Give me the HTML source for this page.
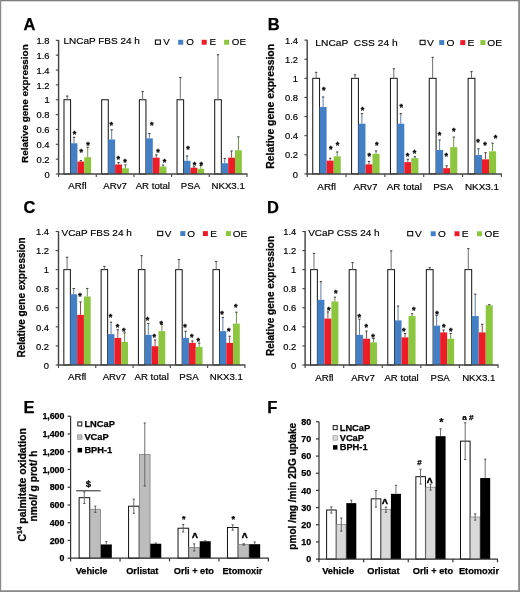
<!DOCTYPE html>
<html><head><meta charset="utf-8"><title>Figure</title>
<style>html,body{margin:0;padding:0;background:#fff}svg{display:block;filter:blur(0.35px)}text{font-family:'Liberation Sans', sans-serif}</style>
</head><body>
<svg width="520" height="592" viewBox="0 0 520 592">
<rect x="0" y="0" width="520" height="592" fill="#fff"/>
<rect x="63.99" y="99.75" width="6.6" height="74.25" fill="#fff" stroke="#111" stroke-width="1"/>
<line x1="67.26" y1="99.75" x2="67.26" y2="96.04" stroke="#6e6e6e" stroke-width="1"/>
<line x1="66.11" y1="96.04" x2="68.41" y2="96.04" stroke="#3a3a3a" stroke-width="1"/>
<rect x="70.59" y="143.26" width="6.85" height="30.74" fill="#437fc5"/>
<line x1="74.01" y1="143.26" x2="74.01" y2="137.32" stroke="#5f7da6" stroke-width="1"/>
<line x1="72.86" y1="137.32" x2="75.16" y2="137.32" stroke="#3a3a3a" stroke-width="1"/>
<rect x="77.44" y="161.53" width="6.85" height="12.47" fill="#ee1c27"/>
<line x1="80.87" y1="161.53" x2="80.87" y2="160.64" stroke="#a0484a" stroke-width="1"/>
<line x1="79.72" y1="160.64" x2="82.02" y2="160.64" stroke="#3a3a3a" stroke-width="1"/>
<rect x="84.29" y="157.22" width="6.85" height="16.78" fill="#8cc63f"/>
<line x1="87.72" y1="157.22" x2="87.72" y2="147.2" stroke="#6f8f4a" stroke-width="1"/>
<line x1="86.57" y1="147.2" x2="88.87" y2="147.2" stroke="#3a3a3a" stroke-width="1"/>
<rect x="101.67" y="99.75" width="6.6" height="74.25" fill="#fff" stroke="#111" stroke-width="1"/>
<rect x="108.27" y="139.47" width="6.85" height="34.53" fill="#437fc5"/>
<line x1="111.69" y1="139.47" x2="111.69" y2="129.82" stroke="#5f7da6" stroke-width="1"/>
<line x1="110.54" y1="129.82" x2="112.84" y2="129.82" stroke="#3a3a3a" stroke-width="1"/>
<rect x="115.12" y="164.5" width="6.85" height="9.5" fill="#ee1c27"/>
<line x1="118.55" y1="164.5" x2="118.55" y2="162.64" stroke="#a0484a" stroke-width="1"/>
<line x1="117.4" y1="162.64" x2="119.7" y2="162.64" stroke="#3a3a3a" stroke-width="1"/>
<rect x="121.97" y="168.28" width="6.85" height="5.72" fill="#8cc63f"/>
<line x1="125.4" y1="168.28" x2="125.4" y2="164.94" stroke="#6f8f4a" stroke-width="1"/>
<line x1="124.25" y1="164.94" x2="126.55" y2="164.94" stroke="#3a3a3a" stroke-width="1"/>
<rect x="139.35" y="99.75" width="6.6" height="74.25" fill="#fff" stroke="#111" stroke-width="1"/>
<line x1="142.62" y1="99.75" x2="142.62" y2="91.58" stroke="#6e6e6e" stroke-width="1"/>
<line x1="141.47" y1="91.58" x2="143.77" y2="91.58" stroke="#3a3a3a" stroke-width="1"/>
<rect x="145.95" y="138.36" width="6.85" height="35.64" fill="#437fc5"/>
<line x1="149.37" y1="138.36" x2="149.37" y2="133.53" stroke="#5f7da6" stroke-width="1"/>
<line x1="148.22" y1="133.53" x2="150.52" y2="133.53" stroke="#3a3a3a" stroke-width="1"/>
<rect x="152.8" y="157.66" width="6.85" height="16.34" fill="#ee1c27"/>
<line x1="156.23" y1="157.66" x2="156.23" y2="154.92" stroke="#a0484a" stroke-width="1"/>
<line x1="155.08" y1="154.92" x2="157.38" y2="154.92" stroke="#3a3a3a" stroke-width="1"/>
<rect x="159.65" y="166.57" width="6.85" height="7.43" fill="#8cc63f"/>
<line x1="163.08" y1="166.57" x2="163.08" y2="165.09" stroke="#6f8f4a" stroke-width="1"/>
<line x1="161.93" y1="165.09" x2="164.23" y2="165.09" stroke="#3a3a3a" stroke-width="1"/>
<rect x="177.03" y="99.75" width="6.6" height="74.25" fill="#fff" stroke="#111" stroke-width="1"/>
<line x1="180.3" y1="99.75" x2="180.3" y2="77.47" stroke="#6e6e6e" stroke-width="1"/>
<line x1="179.15" y1="77.47" x2="181.45" y2="77.47" stroke="#3a3a3a" stroke-width="1"/>
<rect x="183.63" y="160.78" width="6.85" height="13.22" fill="#437fc5"/>
<line x1="187.05" y1="160.78" x2="187.05" y2="155.96" stroke="#5f7da6" stroke-width="1"/>
<line x1="185.9" y1="155.96" x2="188.2" y2="155.96" stroke="#3a3a3a" stroke-width="1"/>
<rect x="190.48" y="167.76" width="6.85" height="6.24" fill="#ee1c27"/>
<line x1="193.91" y1="167.76" x2="193.91" y2="166.87" stroke="#a0484a" stroke-width="1"/>
<line x1="192.76" y1="166.87" x2="195.06" y2="166.87" stroke="#3a3a3a" stroke-width="1"/>
<rect x="197.33" y="168.8" width="6.85" height="5.2" fill="#8cc63f"/>
<line x1="200.76" y1="168.8" x2="200.76" y2="165.46" stroke="#6f8f4a" stroke-width="1"/>
<line x1="199.61" y1="165.46" x2="201.91" y2="165.46" stroke="#3a3a3a" stroke-width="1"/>
<rect x="214.71" y="99.75" width="6.6" height="74.25" fill="#fff" stroke="#111" stroke-width="1"/>
<line x1="217.98" y1="99.75" x2="217.98" y2="54.75" stroke="#6e6e6e" stroke-width="1"/>
<line x1="216.83" y1="54.75" x2="219.13" y2="54.75" stroke="#3a3a3a" stroke-width="1"/>
<rect x="221.31" y="163.23" width="6.85" height="10.77" fill="#437fc5"/>
<line x1="224.73" y1="163.23" x2="224.73" y2="158.41" stroke="#5f7da6" stroke-width="1"/>
<line x1="223.58" y1="158.41" x2="225.88" y2="158.41" stroke="#3a3a3a" stroke-width="1"/>
<rect x="228.16" y="157.66" width="6.85" height="16.34" fill="#ee1c27"/>
<line x1="231.59" y1="157.66" x2="231.59" y2="150.98" stroke="#a0484a" stroke-width="1"/>
<line x1="230.44" y1="150.98" x2="232.74" y2="150.98" stroke="#3a3a3a" stroke-width="1"/>
<rect x="235.01" y="150.24" width="6.85" height="23.76" fill="#8cc63f"/>
<line x1="238.44" y1="150.24" x2="238.44" y2="136.88" stroke="#6f8f4a" stroke-width="1"/>
<line x1="237.29" y1="136.88" x2="239.59" y2="136.88" stroke="#3a3a3a" stroke-width="1"/>
<line x1="58.6" y1="39.95" x2="58.6" y2="174.5" stroke="#444" stroke-width="1.45"/>
<line x1="58.1" y1="174" x2="247.5" y2="174" stroke="#444" stroke-width="1.45"/>
<line x1="55.8" y1="174" x2="58.6" y2="174" stroke="#444" stroke-width="1.1"/>
<text transform="translate(49.6 177.7)" font-size="9.4" text-anchor="end" fill="#000" stroke="#000" stroke-width="0.18">0</text>
<line x1="55.8" y1="159.15" x2="58.6" y2="159.15" stroke="#444" stroke-width="1.1"/>
<text transform="translate(49.6 162.85)" font-size="9.4" text-anchor="end" fill="#000" stroke="#000" stroke-width="0.18">0.2</text>
<line x1="55.8" y1="144.3" x2="58.6" y2="144.3" stroke="#444" stroke-width="1.1"/>
<text transform="translate(49.6 148)" font-size="9.4" text-anchor="end" fill="#000" stroke="#000" stroke-width="0.18">0.4</text>
<line x1="55.8" y1="129.45" x2="58.6" y2="129.45" stroke="#444" stroke-width="1.1"/>
<text transform="translate(49.6 133.15)" font-size="9.4" text-anchor="end" fill="#000" stroke="#000" stroke-width="0.18">0.6</text>
<line x1="55.8" y1="114.6" x2="58.6" y2="114.6" stroke="#444" stroke-width="1.1"/>
<text transform="translate(49.6 118.3)" font-size="9.4" text-anchor="end" fill="#000" stroke="#000" stroke-width="0.18">0.8</text>
<line x1="55.8" y1="99.75" x2="58.6" y2="99.75" stroke="#444" stroke-width="1.1"/>
<text transform="translate(49.6 103.45)" font-size="9.4" text-anchor="end" fill="#000" stroke="#000" stroke-width="0.18">1</text>
<line x1="55.8" y1="84.9" x2="58.6" y2="84.9" stroke="#444" stroke-width="1.1"/>
<text transform="translate(49.6 88.6)" font-size="9.4" text-anchor="end" fill="#000" stroke="#000" stroke-width="0.18">1.2</text>
<line x1="55.8" y1="70.05" x2="58.6" y2="70.05" stroke="#444" stroke-width="1.1"/>
<text transform="translate(49.6 73.75)" font-size="9.4" text-anchor="end" fill="#000" stroke="#000" stroke-width="0.18">1.4</text>
<line x1="55.8" y1="55.2" x2="58.6" y2="55.2" stroke="#444" stroke-width="1.1"/>
<text transform="translate(49.6 58.9)" font-size="9.4" text-anchor="end" fill="#000" stroke="#000" stroke-width="0.18">1.6</text>
<line x1="55.8" y1="40.35" x2="58.6" y2="40.35" stroke="#444" stroke-width="1.1"/>
<text transform="translate(49.6 44.05)" font-size="9.4" text-anchor="end" fill="#000" stroke="#000" stroke-width="0.18">1.8</text>
<line x1="58.6" y1="174" x2="58.6" y2="177" stroke="#444" stroke-width="1.1"/>
<line x1="96.28" y1="174" x2="96.28" y2="177" stroke="#444" stroke-width="1.1"/>
<line x1="133.96" y1="174" x2="133.96" y2="177" stroke="#444" stroke-width="1.1"/>
<line x1="171.64" y1="174" x2="171.64" y2="177" stroke="#444" stroke-width="1.1"/>
<line x1="209.32" y1="174" x2="209.32" y2="177" stroke="#444" stroke-width="1.1"/>
<line x1="247" y1="174" x2="247" y2="177" stroke="#444" stroke-width="1.1"/>
<text transform="translate(77.44 189.3)" font-size="9.65" text-anchor="middle" fill="#000" stroke="#000" stroke-width="0.18">ARfl</text>
<text transform="translate(115.12 189.3)" font-size="9.65" text-anchor="middle" fill="#000" stroke="#000" stroke-width="0.18">ARv7</text>
<text transform="translate(152.8 189.3)" font-size="9.65" text-anchor="middle" fill="#000" stroke="#000" stroke-width="0.18">AR total</text>
<text transform="translate(190.48 189.3)" font-size="9.65" text-anchor="middle" fill="#000" stroke="#000" stroke-width="0.18">PSA</text>
<text transform="translate(228.16 189.3)" font-size="9.65" text-anchor="middle" fill="#000" stroke="#000" stroke-width="0.18">NKX3.1</text>
<text transform="translate(63.5 44) scale(1 0.94)" font-size="10" text-anchor="start" fill="#000" xml:space="preserve" stroke="#000" stroke-width="0.18">LNCaP FBS 24 h</text>
<rect x="155.4" y="40" width="5" height="4.3" fill="#fff" stroke="#111" stroke-width="1.1"/>
<text transform="translate(163.3 45.3) scale(1 0.95)" font-size="9.8" text-anchor="start" fill="#000" stroke="#000" stroke-width="0.18">V</text>
<rect x="178.2" y="39.8" width="5" height="4.9" fill="#437fc5"/>
<text transform="translate(186.2 45.3) scale(1 0.95)" font-size="9.8" text-anchor="start" fill="#000" stroke="#000" stroke-width="0.18">O</text>
<rect x="201.7" y="39.8" width="5" height="4.9" fill="#ee1c27"/>
<text transform="translate(209.6 45.3) scale(1 0.95)" font-size="9.8" text-anchor="start" fill="#000" stroke="#000" stroke-width="0.18">E</text>
<rect x="224.1" y="39.8" width="5" height="4.9" fill="#8cc63f"/>
<text transform="translate(231.8 45.3) scale(1 0.95)" font-size="9.8" text-anchor="start" fill="#000" stroke="#000" stroke-width="0.18">OE</text>
<text transform="translate(27.7 103.6) rotate(-90)" font-size="9.9" font-weight="bold" text-anchor="middle" fill="#000" stroke="#000" stroke-width="0.25">Relative gene expression</text>
<text transform="translate(23.5 29.5)" font-size="16.5" font-weight="bold" text-anchor="start" fill="#000" stroke="#000" stroke-width="0.25">A</text>
<text transform="translate(74.5 137.45)" font-size="9" font-weight="bold" text-anchor="middle" fill="#000" stroke="#000" stroke-width="0.3">*</text>
<text transform="translate(81.25 154.95)" font-size="9" font-weight="bold" text-anchor="middle" fill="#000" stroke="#000" stroke-width="0.3">*</text>
<text transform="translate(88 148.2)" font-size="9" font-weight="bold" text-anchor="middle" fill="#000" stroke="#000" stroke-width="0.3">*</text>
<text transform="translate(111.25 128.2)" font-size="9" font-weight="bold" text-anchor="middle" fill="#000" stroke="#000" stroke-width="0.3">*</text>
<text transform="translate(118.25 161.7)" font-size="9" font-weight="bold" text-anchor="middle" fill="#000" stroke="#000" stroke-width="0.3">*</text>
<text transform="translate(125 164.95)" font-size="9" font-weight="bold" text-anchor="middle" fill="#000" stroke="#000" stroke-width="0.3">*</text>
<text transform="translate(151.75 128.2)" font-size="9" font-weight="bold" text-anchor="middle" fill="#000" stroke="#000" stroke-width="0.3">*</text>
<text transform="translate(158 154.95)" font-size="9" font-weight="bold" text-anchor="middle" fill="#000" stroke="#000" stroke-width="0.3">*</text>
<text transform="translate(164.5 164.95)" font-size="9" font-weight="bold" text-anchor="middle" fill="#000" stroke="#000" stroke-width="0.3">*</text>
<text transform="translate(188 151.95)" font-size="9" font-weight="bold" text-anchor="middle" fill="#000" stroke="#000" stroke-width="0.3">*</text>
<text transform="translate(194.5 167.95)" font-size="9" font-weight="bold" text-anchor="middle" fill="#000" stroke="#000" stroke-width="0.3">*</text>
<text transform="translate(201.25 167.95)" font-size="9" font-weight="bold" text-anchor="middle" fill="#000" stroke="#000" stroke-width="0.3">*</text>
<rect x="312.75" y="78.33" width="6.81" height="95.57" fill="#fff" stroke="#111" stroke-width="1"/>
<line x1="316.13" y1="78.33" x2="316.13" y2="72.31" stroke="#6e6e6e" stroke-width="1"/>
<line x1="314.98" y1="72.31" x2="317.28" y2="72.31" stroke="#3a3a3a" stroke-width="1"/>
<rect x="319.56" y="107" width="7.06" height="66.9" fill="#437fc5"/>
<line x1="323.09" y1="107" x2="323.09" y2="96.97" stroke="#5f7da6" stroke-width="1"/>
<line x1="321.94" y1="96.97" x2="324.24" y2="96.97" stroke="#3a3a3a" stroke-width="1"/>
<rect x="326.62" y="160.62" width="7.06" height="13.28" fill="#ee1c27"/>
<line x1="330.15" y1="160.62" x2="330.15" y2="158.23" stroke="#a0484a" stroke-width="1"/>
<line x1="329" y1="158.23" x2="331.3" y2="158.23" stroke="#3a3a3a" stroke-width="1"/>
<rect x="333.68" y="156.31" width="7.06" height="17.59" fill="#8cc63f"/>
<line x1="337.21" y1="156.31" x2="337.21" y2="152.01" stroke="#6f8f4a" stroke-width="1"/>
<line x1="336.06" y1="152.01" x2="338.36" y2="152.01" stroke="#3a3a3a" stroke-width="1"/>
<rect x="351.59" y="78.33" width="6.81" height="95.57" fill="#fff" stroke="#111" stroke-width="1"/>
<line x1="354.97" y1="78.33" x2="354.97" y2="74.79" stroke="#6e6e6e" stroke-width="1"/>
<line x1="353.82" y1="74.79" x2="356.12" y2="74.79" stroke="#3a3a3a" stroke-width="1"/>
<rect x="358.4" y="123.72" width="7.06" height="50.18" fill="#437fc5"/>
<line x1="361.93" y1="123.72" x2="361.93" y2="113.69" stroke="#5f7da6" stroke-width="1"/>
<line x1="360.78" y1="113.69" x2="363.08" y2="113.69" stroke="#3a3a3a" stroke-width="1"/>
<rect x="365.46" y="164.34" width="7.06" height="9.56" fill="#ee1c27"/>
<line x1="368.99" y1="164.34" x2="368.99" y2="161.48" stroke="#a0484a" stroke-width="1"/>
<line x1="367.84" y1="161.48" x2="370.14" y2="161.48" stroke="#3a3a3a" stroke-width="1"/>
<rect x="372.52" y="153.83" width="7.06" height="20.07" fill="#8cc63f"/>
<line x1="376.05" y1="153.83" x2="376.05" y2="150.96" stroke="#6f8f4a" stroke-width="1"/>
<line x1="374.9" y1="150.96" x2="377.2" y2="150.96" stroke="#3a3a3a" stroke-width="1"/>
<rect x="390.43" y="78.33" width="6.81" height="95.57" fill="#fff" stroke="#111" stroke-width="1"/>
<line x1="393.81" y1="78.33" x2="393.81" y2="68.77" stroke="#6e6e6e" stroke-width="1"/>
<line x1="392.66" y1="68.77" x2="394.96" y2="68.77" stroke="#3a3a3a" stroke-width="1"/>
<rect x="397.24" y="123.72" width="7.06" height="50.18" fill="#437fc5"/>
<line x1="400.77" y1="123.72" x2="400.77" y2="113.69" stroke="#5f7da6" stroke-width="1"/>
<line x1="399.62" y1="113.69" x2="401.92" y2="113.69" stroke="#3a3a3a" stroke-width="1"/>
<rect x="404.3" y="162.14" width="7.06" height="11.76" fill="#ee1c27"/>
<line x1="407.83" y1="162.14" x2="407.83" y2="159.28" stroke="#a0484a" stroke-width="1"/>
<line x1="406.68" y1="159.28" x2="408.98" y2="159.28" stroke="#3a3a3a" stroke-width="1"/>
<rect x="411.36" y="158.13" width="7.06" height="15.77" fill="#8cc63f"/>
<line x1="414.89" y1="158.13" x2="414.89" y2="156.7" stroke="#6f8f4a" stroke-width="1"/>
<line x1="413.74" y1="156.7" x2="416.04" y2="156.7" stroke="#3a3a3a" stroke-width="1"/>
<rect x="429.27" y="78.33" width="6.81" height="95.57" fill="#fff" stroke="#111" stroke-width="1"/>
<line x1="432.65" y1="78.33" x2="432.65" y2="57.3" stroke="#6e6e6e" stroke-width="1"/>
<line x1="431.5" y1="57.3" x2="433.8" y2="57.3" stroke="#3a3a3a" stroke-width="1"/>
<rect x="436.08" y="150.01" width="7.06" height="23.89" fill="#437fc5"/>
<line x1="439.61" y1="150.01" x2="439.61" y2="139.97" stroke="#5f7da6" stroke-width="1"/>
<line x1="438.46" y1="139.97" x2="440.76" y2="139.97" stroke="#3a3a3a" stroke-width="1"/>
<rect x="443.14" y="168.17" width="7.06" height="5.73" fill="#ee1c27"/>
<line x1="446.67" y1="168.17" x2="446.67" y2="165.78" stroke="#a0484a" stroke-width="1"/>
<line x1="445.52" y1="165.78" x2="447.82" y2="165.78" stroke="#3a3a3a" stroke-width="1"/>
<rect x="450.2" y="147.14" width="7.06" height="26.76" fill="#8cc63f"/>
<line x1="453.73" y1="147.14" x2="453.73" y2="137.1" stroke="#6f8f4a" stroke-width="1"/>
<line x1="452.58" y1="137.1" x2="454.88" y2="137.1" stroke="#3a3a3a" stroke-width="1"/>
<rect x="468.11" y="78.33" width="6.81" height="95.57" fill="#fff" stroke="#111" stroke-width="1"/>
<line x1="471.49" y1="78.33" x2="471.49" y2="71.64" stroke="#6e6e6e" stroke-width="1"/>
<line x1="470.34" y1="71.64" x2="472.64" y2="71.64" stroke="#3a3a3a" stroke-width="1"/>
<rect x="474.92" y="155.07" width="7.06" height="18.83" fill="#437fc5"/>
<line x1="478.45" y1="155.07" x2="478.45" y2="148.86" stroke="#5f7da6" stroke-width="1"/>
<line x1="477.3" y1="148.86" x2="479.6" y2="148.86" stroke="#3a3a3a" stroke-width="1"/>
<rect x="481.98" y="159.37" width="7.06" height="14.53" fill="#ee1c27"/>
<line x1="485.51" y1="159.37" x2="485.51" y2="152.68" stroke="#a0484a" stroke-width="1"/>
<line x1="484.36" y1="152.68" x2="486.66" y2="152.68" stroke="#3a3a3a" stroke-width="1"/>
<rect x="489.04" y="151.35" width="7.06" height="22.55" fill="#8cc63f"/>
<line x1="492.57" y1="151.35" x2="492.57" y2="143.22" stroke="#6f8f4a" stroke-width="1"/>
<line x1="491.42" y1="143.22" x2="493.72" y2="143.22" stroke="#3a3a3a" stroke-width="1"/>
<line x1="307.2" y1="39.7" x2="307.2" y2="174.4" stroke="#444" stroke-width="1.45"/>
<line x1="306.7" y1="173.9" x2="501.9" y2="173.9" stroke="#444" stroke-width="1.45"/>
<line x1="304.4" y1="173.9" x2="307.2" y2="173.9" stroke="#444" stroke-width="1.1"/>
<text transform="translate(298 177.6)" font-size="9.4" text-anchor="end" fill="#000" stroke="#000" stroke-width="0.18">0</text>
<line x1="304.4" y1="154.79" x2="307.2" y2="154.79" stroke="#444" stroke-width="1.1"/>
<text transform="translate(298 158.49)" font-size="9.4" text-anchor="end" fill="#000" stroke="#000" stroke-width="0.18">0.2</text>
<line x1="304.4" y1="135.67" x2="307.2" y2="135.67" stroke="#444" stroke-width="1.1"/>
<text transform="translate(298 139.37)" font-size="9.4" text-anchor="end" fill="#000" stroke="#000" stroke-width="0.18">0.4</text>
<line x1="304.4" y1="116.56" x2="307.2" y2="116.56" stroke="#444" stroke-width="1.1"/>
<text transform="translate(298 120.26)" font-size="9.4" text-anchor="end" fill="#000" stroke="#000" stroke-width="0.18">0.6</text>
<line x1="304.4" y1="97.44" x2="307.2" y2="97.44" stroke="#444" stroke-width="1.1"/>
<text transform="translate(298 101.14)" font-size="9.4" text-anchor="end" fill="#000" stroke="#000" stroke-width="0.18">0.8</text>
<line x1="304.4" y1="78.33" x2="307.2" y2="78.33" stroke="#444" stroke-width="1.1"/>
<text transform="translate(298 82.03)" font-size="9.4" text-anchor="end" fill="#000" stroke="#000" stroke-width="0.18">1</text>
<line x1="304.4" y1="59.21" x2="307.2" y2="59.21" stroke="#444" stroke-width="1.1"/>
<text transform="translate(298 62.91)" font-size="9.4" text-anchor="end" fill="#000" stroke="#000" stroke-width="0.18">1.2</text>
<line x1="304.4" y1="40.1" x2="307.2" y2="40.1" stroke="#444" stroke-width="1.1"/>
<text transform="translate(298 43.8)" font-size="9.4" text-anchor="end" fill="#000" stroke="#000" stroke-width="0.18">1.4</text>
<line x1="307.2" y1="173.9" x2="307.2" y2="176.9" stroke="#444" stroke-width="1.1"/>
<line x1="346.04" y1="173.9" x2="346.04" y2="176.9" stroke="#444" stroke-width="1.1"/>
<line x1="384.88" y1="173.9" x2="384.88" y2="176.9" stroke="#444" stroke-width="1.1"/>
<line x1="423.72" y1="173.9" x2="423.72" y2="176.9" stroke="#444" stroke-width="1.1"/>
<line x1="462.56" y1="173.9" x2="462.56" y2="176.9" stroke="#444" stroke-width="1.1"/>
<line x1="501.4" y1="173.9" x2="501.4" y2="176.9" stroke="#444" stroke-width="1.1"/>
<text transform="translate(326.62 189.5)" font-size="9.89125" text-anchor="middle" fill="#000" stroke="#000" stroke-width="0.18">ARfl</text>
<text transform="translate(365.46 189.5)" font-size="9.89125" text-anchor="middle" fill="#000" stroke="#000" stroke-width="0.18">ARv7</text>
<text transform="translate(404.3 189.5)" font-size="9.89125" text-anchor="middle" fill="#000" stroke="#000" stroke-width="0.18">AR total</text>
<text transform="translate(443.14 189.5)" font-size="9.89125" text-anchor="middle" fill="#000" stroke="#000" stroke-width="0.18">PSA</text>
<text transform="translate(481.98 189.5)" font-size="9.89125" text-anchor="middle" fill="#000" stroke="#000" stroke-width="0.18">NKX3.1</text>
<text transform="translate(315.3 45.6) scale(1 0.94)" font-size="10.25" text-anchor="start" fill="#000" xml:space="preserve" stroke="#000" stroke-width="0.18">LNCaP  CSS 24 h</text>
<rect x="420.1" y="40.3" width="5" height="4.3" fill="#fff" stroke="#111" stroke-width="1.1"/>
<text transform="translate(427 45.6) scale(1 0.95)" font-size="10.25" text-anchor="start" fill="#000" stroke="#000" stroke-width="0.18">V</text>
<rect x="439.2" y="40.1" width="5" height="4.9" fill="#437fc5"/>
<text transform="translate(446.6 45.6) scale(1 0.95)" font-size="10.25" text-anchor="start" fill="#000" stroke="#000" stroke-width="0.18">O</text>
<rect x="460.3" y="40.1" width="5" height="4.9" fill="#ee1c27"/>
<text transform="translate(467.6 45.6) scale(1 0.95)" font-size="10.25" text-anchor="start" fill="#000" stroke="#000" stroke-width="0.18">E</text>
<rect x="480.4" y="40.1" width="5" height="4.9" fill="#8cc63f"/>
<text transform="translate(487.2 45.6) scale(1 0.95)" font-size="10.25" text-anchor="start" fill="#000" stroke="#000" stroke-width="0.18">OE</text>
<text transform="translate(273.8 106.3) rotate(-90)" font-size="10.4" font-weight="bold" text-anchor="middle" fill="#000" stroke="#000" stroke-width="0.25">Relative gene expression</text>
<text transform="translate(267.8 29.5)" font-size="16.5" font-weight="bold" text-anchor="start" fill="#000" stroke="#000" stroke-width="0.25">B</text>
<text transform="translate(323.75 92.95)" font-size="9" font-weight="bold" text-anchor="middle" fill="#000" stroke="#000" stroke-width="0.3">*</text>
<text transform="translate(330.75 151.95)" font-size="9" font-weight="bold" text-anchor="middle" fill="#000" stroke="#000" stroke-width="0.3">*</text>
<text transform="translate(337.5 148.2)" font-size="9" font-weight="bold" text-anchor="middle" fill="#000" stroke="#000" stroke-width="0.3">*</text>
<text transform="translate(362.5 113.2)" font-size="9" font-weight="bold" text-anchor="middle" fill="#000" stroke="#000" stroke-width="0.3">*</text>
<text transform="translate(369.25 159.45)" font-size="9" font-weight="bold" text-anchor="middle" fill="#000" stroke="#000" stroke-width="0.3">*</text>
<text transform="translate(376.75 148.2)" font-size="9" font-weight="bold" text-anchor="middle" fill="#000" stroke="#000" stroke-width="0.3">*</text>
<text transform="translate(401.25 110.45)" font-size="9" font-weight="bold" text-anchor="middle" fill="#000" stroke="#000" stroke-width="0.3">*</text>
<text transform="translate(407.5 159.45)" font-size="9" font-weight="bold" text-anchor="middle" fill="#000" stroke="#000" stroke-width="0.3">*</text>
<text transform="translate(414.5 155.7)" font-size="9" font-weight="bold" text-anchor="middle" fill="#000" stroke="#000" stroke-width="0.3">*</text>
<text transform="translate(439.5 138.2)" font-size="9" font-weight="bold" text-anchor="middle" fill="#000" stroke="#000" stroke-width="0.3">*</text>
<text transform="translate(446.25 159.45)" font-size="9" font-weight="bold" text-anchor="middle" fill="#000" stroke="#000" stroke-width="0.3">*</text>
<text transform="translate(453.75 134.45)" font-size="9" font-weight="bold" text-anchor="middle" fill="#000" stroke="#000" stroke-width="0.3">*</text>
<text transform="translate(478 144.95)" font-size="9" font-weight="bold" text-anchor="middle" fill="#000" stroke="#000" stroke-width="0.3">*</text>
<text transform="translate(485 148.2)" font-size="9" font-weight="bold" text-anchor="middle" fill="#000" stroke="#000" stroke-width="0.3">*</text>
<text transform="translate(495.5 141.2)" font-size="9" font-weight="bold" text-anchor="middle" fill="#000" stroke="#000" stroke-width="0.3">*</text>
<rect x="63.83" y="269.64" width="6.53" height="95.36" fill="#fff" stroke="#111" stroke-width="1"/>
<line x1="67.07" y1="269.64" x2="67.07" y2="257.25" stroke="#6e6e6e" stroke-width="1"/>
<line x1="65.92" y1="257.25" x2="68.22" y2="257.25" stroke="#3a3a3a" stroke-width="1"/>
<rect x="70.36" y="294.25" width="6.78" height="70.75" fill="#437fc5"/>
<line x1="73.75" y1="294.25" x2="73.75" y2="288.52" stroke="#5f7da6" stroke-width="1"/>
<line x1="72.6" y1="288.52" x2="74.9" y2="288.52" stroke="#3a3a3a" stroke-width="1"/>
<rect x="77.14" y="314.84" width="6.78" height="50.16" fill="#ee1c27"/>
<line x1="80.53" y1="314.84" x2="80.53" y2="301.97" stroke="#a0484a" stroke-width="1"/>
<line x1="79.38" y1="301.97" x2="81.68" y2="301.97" stroke="#3a3a3a" stroke-width="1"/>
<rect x="83.92" y="296.53" width="6.78" height="68.47" fill="#8cc63f"/>
<line x1="87.31" y1="296.53" x2="87.31" y2="288.43" stroke="#6f8f4a" stroke-width="1"/>
<line x1="86.16" y1="288.43" x2="88.46" y2="288.43" stroke="#3a3a3a" stroke-width="1"/>
<rect x="101.11" y="269.64" width="6.53" height="95.36" fill="#fff" stroke="#111" stroke-width="1"/>
<line x1="104.35" y1="269.64" x2="104.35" y2="266.4" stroke="#6e6e6e" stroke-width="1"/>
<line x1="103.2" y1="266.4" x2="105.5" y2="266.4" stroke="#3a3a3a" stroke-width="1"/>
<rect x="107.64" y="334.1" width="6.78" height="30.9" fill="#437fc5"/>
<line x1="111.03" y1="334.1" x2="111.03" y2="322.18" stroke="#5f7da6" stroke-width="1"/>
<line x1="109.88" y1="322.18" x2="112.18" y2="322.18" stroke="#3a3a3a" stroke-width="1"/>
<rect x="114.42" y="337.92" width="6.78" height="27.08" fill="#ee1c27"/>
<line x1="117.81" y1="337.92" x2="117.81" y2="329.81" stroke="#a0484a" stroke-width="1"/>
<line x1="116.66" y1="329.81" x2="118.96" y2="329.81" stroke="#3a3a3a" stroke-width="1"/>
<rect x="121.2" y="341.92" width="6.78" height="23.08" fill="#8cc63f"/>
<line x1="124.59" y1="341.92" x2="124.59" y2="332.86" stroke="#6f8f4a" stroke-width="1"/>
<line x1="123.44" y1="332.86" x2="125.74" y2="332.86" stroke="#3a3a3a" stroke-width="1"/>
<rect x="138.39" y="269.64" width="6.53" height="95.36" fill="#fff" stroke="#111" stroke-width="1"/>
<line x1="141.63" y1="269.64" x2="141.63" y2="255.63" stroke="#6e6e6e" stroke-width="1"/>
<line x1="140.48" y1="255.63" x2="142.78" y2="255.63" stroke="#3a3a3a" stroke-width="1"/>
<rect x="144.92" y="334.87" width="6.78" height="30.13" fill="#437fc5"/>
<line x1="148.31" y1="334.87" x2="148.31" y2="323.42" stroke="#5f7da6" stroke-width="1"/>
<line x1="147.16" y1="323.42" x2="149.46" y2="323.42" stroke="#3a3a3a" stroke-width="1"/>
<rect x="151.7" y="346.21" width="6.78" height="18.79" fill="#ee1c27"/>
<line x1="155.09" y1="346.21" x2="155.09" y2="340.02" stroke="#a0484a" stroke-width="1"/>
<line x1="153.94" y1="340.02" x2="156.24" y2="340.02" stroke="#3a3a3a" stroke-width="1"/>
<rect x="158.48" y="331.15" width="6.78" height="33.85" fill="#8cc63f"/>
<line x1="161.87" y1="331.15" x2="161.87" y2="324.47" stroke="#6f8f4a" stroke-width="1"/>
<line x1="160.72" y1="324.47" x2="163.02" y2="324.47" stroke="#3a3a3a" stroke-width="1"/>
<rect x="175.67" y="269.64" width="6.53" height="95.36" fill="#fff" stroke="#111" stroke-width="1"/>
<line x1="178.91" y1="269.64" x2="178.91" y2="259.63" stroke="#6e6e6e" stroke-width="1"/>
<line x1="177.76" y1="259.63" x2="180.06" y2="259.63" stroke="#3a3a3a" stroke-width="1"/>
<rect x="182.2" y="337.92" width="6.78" height="27.08" fill="#437fc5"/>
<line x1="185.59" y1="337.92" x2="185.59" y2="331.24" stroke="#5f7da6" stroke-width="1"/>
<line x1="184.44" y1="331.24" x2="186.74" y2="331.24" stroke="#3a3a3a" stroke-width="1"/>
<rect x="188.98" y="342.88" width="6.78" height="22.12" fill="#ee1c27"/>
<line x1="192.37" y1="342.88" x2="192.37" y2="340.97" stroke="#a0484a" stroke-width="1"/>
<line x1="191.22" y1="340.97" x2="193.52" y2="340.97" stroke="#3a3a3a" stroke-width="1"/>
<rect x="195.76" y="346.88" width="6.78" height="18.12" fill="#8cc63f"/>
<line x1="199.15" y1="346.88" x2="199.15" y2="343.07" stroke="#6f8f4a" stroke-width="1"/>
<line x1="198" y1="343.07" x2="200.3" y2="343.07" stroke="#3a3a3a" stroke-width="1"/>
<rect x="212.95" y="269.64" width="6.53" height="95.36" fill="#fff" stroke="#111" stroke-width="1"/>
<line x1="216.19" y1="269.64" x2="216.19" y2="261.35" stroke="#6e6e6e" stroke-width="1"/>
<line x1="215.04" y1="261.35" x2="217.34" y2="261.35" stroke="#3a3a3a" stroke-width="1"/>
<rect x="219.48" y="331.15" width="6.78" height="33.85" fill="#437fc5"/>
<line x1="222.87" y1="331.15" x2="222.87" y2="317.32" stroke="#5f7da6" stroke-width="1"/>
<line x1="221.72" y1="317.32" x2="224.02" y2="317.32" stroke="#3a3a3a" stroke-width="1"/>
<rect x="226.26" y="342.88" width="6.78" height="22.12" fill="#ee1c27"/>
<line x1="229.65" y1="342.88" x2="229.65" y2="336.2" stroke="#a0484a" stroke-width="1"/>
<line x1="228.5" y1="336.2" x2="230.8" y2="336.2" stroke="#3a3a3a" stroke-width="1"/>
<rect x="233.04" y="323.62" width="6.78" height="41.38" fill="#8cc63f"/>
<line x1="236.43" y1="323.62" x2="236.43" y2="312.17" stroke="#6f8f4a" stroke-width="1"/>
<line x1="235.28" y1="312.17" x2="237.58" y2="312.17" stroke="#3a3a3a" stroke-width="1"/>
<line x1="58.5" y1="231.1" x2="58.5" y2="365.5" stroke="#444" stroke-width="1.45"/>
<line x1="58" y1="365" x2="245.4" y2="365" stroke="#444" stroke-width="1.45"/>
<line x1="55.7" y1="365" x2="58.5" y2="365" stroke="#444" stroke-width="1.1"/>
<text transform="translate(49 368.7)" font-size="9.4" text-anchor="end" fill="#000" stroke="#000" stroke-width="0.18">0</text>
<line x1="55.7" y1="345.93" x2="58.5" y2="345.93" stroke="#444" stroke-width="1.1"/>
<text transform="translate(49 349.63)" font-size="9.4" text-anchor="end" fill="#000" stroke="#000" stroke-width="0.18">0.2</text>
<line x1="55.7" y1="326.86" x2="58.5" y2="326.86" stroke="#444" stroke-width="1.1"/>
<text transform="translate(49 330.56)" font-size="9.4" text-anchor="end" fill="#000" stroke="#000" stroke-width="0.18">0.4</text>
<line x1="55.7" y1="307.79" x2="58.5" y2="307.79" stroke="#444" stroke-width="1.1"/>
<text transform="translate(49 311.49)" font-size="9.4" text-anchor="end" fill="#000" stroke="#000" stroke-width="0.18">0.6</text>
<line x1="55.7" y1="288.71" x2="58.5" y2="288.71" stroke="#444" stroke-width="1.1"/>
<text transform="translate(49 292.41)" font-size="9.4" text-anchor="end" fill="#000" stroke="#000" stroke-width="0.18">0.8</text>
<line x1="55.7" y1="269.64" x2="58.5" y2="269.64" stroke="#444" stroke-width="1.1"/>
<text transform="translate(49 273.34)" font-size="9.4" text-anchor="end" fill="#000" stroke="#000" stroke-width="0.18">1</text>
<line x1="55.7" y1="250.57" x2="58.5" y2="250.57" stroke="#444" stroke-width="1.1"/>
<text transform="translate(49 254.27)" font-size="9.4" text-anchor="end" fill="#000" stroke="#000" stroke-width="0.18">1.2</text>
<line x1="55.7" y1="231.5" x2="58.5" y2="231.5" stroke="#444" stroke-width="1.1"/>
<text transform="translate(49 235.2)" font-size="9.4" text-anchor="end" fill="#000" stroke="#000" stroke-width="0.18">1.4</text>
<line x1="58.5" y1="365" x2="58.5" y2="368" stroke="#444" stroke-width="1.1"/>
<line x1="95.78" y1="365" x2="95.78" y2="368" stroke="#444" stroke-width="1.1"/>
<line x1="133.06" y1="365" x2="133.06" y2="368" stroke="#444" stroke-width="1.1"/>
<line x1="170.34" y1="365" x2="170.34" y2="368" stroke="#444" stroke-width="1.1"/>
<line x1="207.62" y1="365" x2="207.62" y2="368" stroke="#444" stroke-width="1.1"/>
<line x1="244.9" y1="365" x2="244.9" y2="368" stroke="#444" stroke-width="1.1"/>
<text transform="translate(77.14 380.4)" font-size="9.65" text-anchor="middle" fill="#000" stroke="#000" stroke-width="0.18">ARfl</text>
<text transform="translate(114.42 380.4)" font-size="9.65" text-anchor="middle" fill="#000" stroke="#000" stroke-width="0.18">ARv7</text>
<text transform="translate(151.7 380.4)" font-size="9.65" text-anchor="middle" fill="#000" stroke="#000" stroke-width="0.18">AR total</text>
<text transform="translate(188.98 380.4)" font-size="9.65" text-anchor="middle" fill="#000" stroke="#000" stroke-width="0.18">PSA</text>
<text transform="translate(226.26 380.4)" font-size="9.65" text-anchor="middle" fill="#000" stroke="#000" stroke-width="0.18">NKX3.1</text>
<text transform="translate(61.5 236) scale(1 0.94)" font-size="10" text-anchor="start" fill="#000" xml:space="preserve" stroke="#000" stroke-width="0.18">VCaP FBS 24 h</text>
<rect x="157.7" y="231.3" width="5" height="4.3" fill="#fff" stroke="#111" stroke-width="1.1"/>
<text transform="translate(164.8 236.6) scale(1 0.95)" font-size="10" text-anchor="start" fill="#000" stroke="#000" stroke-width="0.18">V</text>
<rect x="180.3" y="231.1" width="5" height="4.9" fill="#437fc5"/>
<text transform="translate(187.3 236.6) scale(1 0.95)" font-size="10" text-anchor="start" fill="#000" stroke="#000" stroke-width="0.18">O</text>
<rect x="202.9" y="231.1" width="5" height="4.9" fill="#ee1c27"/>
<text transform="translate(210.3 236.6) scale(1 0.95)" font-size="10" text-anchor="start" fill="#000" stroke="#000" stroke-width="0.18">E</text>
<rect x="225.9" y="231.1" width="5" height="4.9" fill="#8cc63f"/>
<text transform="translate(232.8 236.6) scale(1 0.95)" font-size="10" text-anchor="start" fill="#000" stroke="#000" stroke-width="0.18">OE</text>
<text transform="translate(25.4 297.5) rotate(-90)" font-size="10" font-weight="bold" text-anchor="middle" fill="#000" stroke="#000" stroke-width="0.25">Relative gene expression</text>
<text transform="translate(23.5 213)" font-size="16.5" font-weight="bold" text-anchor="start" fill="#000" stroke="#000" stroke-width="0.25">C</text>
<text transform="translate(80 299.45)" font-size="9" font-weight="bold" text-anchor="middle" fill="#000" stroke="#000" stroke-width="0.3">*</text>
<text transform="translate(110.5 319.95)" font-size="9" font-weight="bold" text-anchor="middle" fill="#000" stroke="#000" stroke-width="0.3">*</text>
<text transform="translate(117.5 330.45)" font-size="9" font-weight="bold" text-anchor="middle" fill="#000" stroke="#000" stroke-width="0.3">*</text>
<text transform="translate(123.75 333.7)" font-size="9" font-weight="bold" text-anchor="middle" fill="#000" stroke="#000" stroke-width="0.3">*</text>
<text transform="translate(147.5 323.2)" font-size="9" font-weight="bold" text-anchor="middle" fill="#000" stroke="#000" stroke-width="0.3">*</text>
<text transform="translate(154.25 340.45)" font-size="9" font-weight="bold" text-anchor="middle" fill="#000" stroke="#000" stroke-width="0.3">*</text>
<text transform="translate(161.25 326.95)" font-size="9" font-weight="bold" text-anchor="middle" fill="#000" stroke="#000" stroke-width="0.3">*</text>
<text transform="translate(185 329.95)" font-size="9" font-weight="bold" text-anchor="middle" fill="#000" stroke="#000" stroke-width="0.3">*</text>
<text transform="translate(191.75 340.45)" font-size="9" font-weight="bold" text-anchor="middle" fill="#000" stroke="#000" stroke-width="0.3">*</text>
<text transform="translate(198.25 343.7)" font-size="9" font-weight="bold" text-anchor="middle" fill="#000" stroke="#000" stroke-width="0.3">*</text>
<text transform="translate(222 316.95)" font-size="9" font-weight="bold" text-anchor="middle" fill="#000" stroke="#000" stroke-width="0.3">*</text>
<text transform="translate(228.75 333.7)" font-size="9" font-weight="bold" text-anchor="middle" fill="#000" stroke="#000" stroke-width="0.3">*</text>
<text transform="translate(235.75 309.95)" font-size="9" font-weight="bold" text-anchor="middle" fill="#000" stroke="#000" stroke-width="0.3">*</text>
<rect x="310.61" y="269.64" width="6.76" height="95.36" fill="#fff" stroke="#111" stroke-width="1"/>
<line x1="313.97" y1="269.64" x2="313.97" y2="253.43" stroke="#6e6e6e" stroke-width="1"/>
<line x1="312.82" y1="253.43" x2="315.12" y2="253.43" stroke="#3a3a3a" stroke-width="1"/>
<rect x="317.38" y="299.78" width="7.01" height="65.22" fill="#437fc5"/>
<line x1="320.88" y1="299.78" x2="320.88" y2="281.66" stroke="#5f7da6" stroke-width="1"/>
<line x1="319.73" y1="281.66" x2="322.03" y2="281.66" stroke="#3a3a3a" stroke-width="1"/>
<rect x="324.39" y="318.56" width="7.01" height="46.44" fill="#ee1c27"/>
<line x1="327.9" y1="318.56" x2="327.9" y2="311.89" stroke="#a0484a" stroke-width="1"/>
<line x1="326.75" y1="311.89" x2="329.05" y2="311.89" stroke="#3a3a3a" stroke-width="1"/>
<rect x="331.4" y="301.49" width="7.01" height="63.51" fill="#8cc63f"/>
<line x1="334.91" y1="301.49" x2="334.91" y2="297.2" stroke="#6f8f4a" stroke-width="1"/>
<line x1="333.76" y1="297.2" x2="336.06" y2="297.2" stroke="#3a3a3a" stroke-width="1"/>
<rect x="349.19" y="269.64" width="6.76" height="95.36" fill="#fff" stroke="#111" stroke-width="1"/>
<line x1="352.55" y1="269.64" x2="352.55" y2="262.59" stroke="#6e6e6e" stroke-width="1"/>
<line x1="351.4" y1="262.59" x2="353.7" y2="262.59" stroke="#3a3a3a" stroke-width="1"/>
<rect x="355.96" y="334.87" width="7.01" height="30.13" fill="#437fc5"/>
<line x1="359.46" y1="334.87" x2="359.46" y2="319.13" stroke="#5f7da6" stroke-width="1"/>
<line x1="358.31" y1="319.13" x2="360.61" y2="319.13" stroke="#3a3a3a" stroke-width="1"/>
<rect x="362.97" y="338.68" width="7.01" height="26.32" fill="#ee1c27"/>
<line x1="366.48" y1="338.68" x2="366.48" y2="331.05" stroke="#a0484a" stroke-width="1"/>
<line x1="365.33" y1="331.05" x2="367.63" y2="331.05" stroke="#3a3a3a" stroke-width="1"/>
<rect x="369.98" y="342.4" width="7.01" height="22.6" fill="#8cc63f"/>
<line x1="373.49" y1="342.4" x2="373.49" y2="338.59" stroke="#6f8f4a" stroke-width="1"/>
<line x1="372.34" y1="338.59" x2="374.64" y2="338.59" stroke="#3a3a3a" stroke-width="1"/>
<rect x="387.77" y="269.64" width="6.76" height="95.36" fill="#fff" stroke="#111" stroke-width="1"/>
<line x1="391.13" y1="269.64" x2="391.13" y2="250.86" stroke="#6e6e6e" stroke-width="1"/>
<line x1="389.98" y1="250.86" x2="392.28" y2="250.86" stroke="#3a3a3a" stroke-width="1"/>
<rect x="394.54" y="320.37" width="7.01" height="44.63" fill="#437fc5"/>
<line x1="398.04" y1="320.37" x2="398.04" y2="306.07" stroke="#5f7da6" stroke-width="1"/>
<line x1="396.89" y1="306.07" x2="399.19" y2="306.07" stroke="#3a3a3a" stroke-width="1"/>
<rect x="401.55" y="337.35" width="7.01" height="27.65" fill="#ee1c27"/>
<line x1="405.06" y1="337.35" x2="405.06" y2="333.53" stroke="#a0484a" stroke-width="1"/>
<line x1="403.91" y1="333.53" x2="406.21" y2="333.53" stroke="#3a3a3a" stroke-width="1"/>
<rect x="408.56" y="316.08" width="7.01" height="48.92" fill="#8cc63f"/>
<line x1="412.07" y1="316.08" x2="412.07" y2="313.7" stroke="#6f8f4a" stroke-width="1"/>
<line x1="410.92" y1="313.7" x2="413.22" y2="313.7" stroke="#3a3a3a" stroke-width="1"/>
<rect x="426.35" y="269.64" width="6.76" height="95.36" fill="#fff" stroke="#111" stroke-width="1"/>
<line x1="429.71" y1="269.64" x2="429.71" y2="267.74" stroke="#6e6e6e" stroke-width="1"/>
<line x1="428.56" y1="267.74" x2="430.86" y2="267.74" stroke="#3a3a3a" stroke-width="1"/>
<rect x="433.12" y="325.62" width="7.01" height="39.38" fill="#437fc5"/>
<line x1="436.62" y1="325.62" x2="436.62" y2="315.61" stroke="#5f7da6" stroke-width="1"/>
<line x1="435.47" y1="315.61" x2="437.77" y2="315.61" stroke="#3a3a3a" stroke-width="1"/>
<rect x="440.13" y="332.39" width="7.01" height="32.61" fill="#ee1c27"/>
<line x1="443.64" y1="332.39" x2="443.64" y2="330" stroke="#a0484a" stroke-width="1"/>
<line x1="442.49" y1="330" x2="444.79" y2="330" stroke="#3a3a3a" stroke-width="1"/>
<rect x="447.14" y="338.68" width="7.01" height="26.32" fill="#8cc63f"/>
<line x1="450.65" y1="338.68" x2="450.65" y2="333.44" stroke="#6f8f4a" stroke-width="1"/>
<line x1="449.5" y1="333.44" x2="451.8" y2="333.44" stroke="#3a3a3a" stroke-width="1"/>
<rect x="464.93" y="269.64" width="6.76" height="95.36" fill="#fff" stroke="#111" stroke-width="1"/>
<line x1="468.29" y1="269.64" x2="468.29" y2="248.66" stroke="#6e6e6e" stroke-width="1"/>
<line x1="467.14" y1="248.66" x2="469.44" y2="248.66" stroke="#3a3a3a" stroke-width="1"/>
<rect x="471.7" y="316.08" width="7.01" height="48.92" fill="#437fc5"/>
<line x1="475.2" y1="316.08" x2="475.2" y2="294.15" stroke="#5f7da6" stroke-width="1"/>
<line x1="474.05" y1="294.15" x2="476.35" y2="294.15" stroke="#3a3a3a" stroke-width="1"/>
<rect x="478.71" y="332.39" width="7.01" height="32.61" fill="#ee1c27"/>
<line x1="482.22" y1="332.39" x2="482.22" y2="324.28" stroke="#a0484a" stroke-width="1"/>
<line x1="481.07" y1="324.28" x2="483.37" y2="324.28" stroke="#3a3a3a" stroke-width="1"/>
<rect x="485.72" y="305.31" width="7.01" height="59.69" fill="#8cc63f"/>
<line x1="489.23" y1="305.31" x2="489.23" y2="304.73" stroke="#6f8f4a" stroke-width="1"/>
<line x1="488.08" y1="304.73" x2="490.38" y2="304.73" stroke="#3a3a3a" stroke-width="1"/>
<line x1="305.1" y1="231.1" x2="305.1" y2="365.5" stroke="#444" stroke-width="1.45"/>
<line x1="304.6" y1="365" x2="498.5" y2="365" stroke="#444" stroke-width="1.45"/>
<line x1="302.3" y1="365" x2="305.1" y2="365" stroke="#444" stroke-width="1.1"/>
<text transform="translate(296.3 368.7)" font-size="9.4" text-anchor="end" fill="#000" stroke="#000" stroke-width="0.18">0</text>
<line x1="302.3" y1="345.93" x2="305.1" y2="345.93" stroke="#444" stroke-width="1.1"/>
<text transform="translate(296.3 349.63)" font-size="9.4" text-anchor="end" fill="#000" stroke="#000" stroke-width="0.18">0.2</text>
<line x1="302.3" y1="326.86" x2="305.1" y2="326.86" stroke="#444" stroke-width="1.1"/>
<text transform="translate(296.3 330.56)" font-size="9.4" text-anchor="end" fill="#000" stroke="#000" stroke-width="0.18">0.4</text>
<line x1="302.3" y1="307.79" x2="305.1" y2="307.79" stroke="#444" stroke-width="1.1"/>
<text transform="translate(296.3 311.49)" font-size="9.4" text-anchor="end" fill="#000" stroke="#000" stroke-width="0.18">0.6</text>
<line x1="302.3" y1="288.71" x2="305.1" y2="288.71" stroke="#444" stroke-width="1.1"/>
<text transform="translate(296.3 292.41)" font-size="9.4" text-anchor="end" fill="#000" stroke="#000" stroke-width="0.18">0.8</text>
<line x1="302.3" y1="269.64" x2="305.1" y2="269.64" stroke="#444" stroke-width="1.1"/>
<text transform="translate(296.3 273.34)" font-size="9.4" text-anchor="end" fill="#000" stroke="#000" stroke-width="0.18">1</text>
<line x1="302.3" y1="250.57" x2="305.1" y2="250.57" stroke="#444" stroke-width="1.1"/>
<text transform="translate(296.3 254.27)" font-size="9.4" text-anchor="end" fill="#000" stroke="#000" stroke-width="0.18">1.2</text>
<line x1="302.3" y1="231.5" x2="305.1" y2="231.5" stroke="#444" stroke-width="1.1"/>
<text transform="translate(296.3 235.2)" font-size="9.4" text-anchor="end" fill="#000" stroke="#000" stroke-width="0.18">1.4</text>
<line x1="305.1" y1="365" x2="305.1" y2="368" stroke="#444" stroke-width="1.1"/>
<line x1="343.68" y1="365" x2="343.68" y2="368" stroke="#444" stroke-width="1.1"/>
<line x1="382.26" y1="365" x2="382.26" y2="368" stroke="#444" stroke-width="1.1"/>
<line x1="420.84" y1="365" x2="420.84" y2="368" stroke="#444" stroke-width="1.1"/>
<line x1="459.42" y1="365" x2="459.42" y2="368" stroke="#444" stroke-width="1.1"/>
<line x1="498" y1="365" x2="498" y2="368" stroke="#444" stroke-width="1.1"/>
<text transform="translate(324.39 380.5)" font-size="9.65" text-anchor="middle" fill="#000" stroke="#000" stroke-width="0.18">ARfl</text>
<text transform="translate(362.97 380.5)" font-size="9.65" text-anchor="middle" fill="#000" stroke="#000" stroke-width="0.18">ARv7</text>
<text transform="translate(401.55 380.5)" font-size="9.65" text-anchor="middle" fill="#000" stroke="#000" stroke-width="0.18">AR total</text>
<text transform="translate(440.13 380.5)" font-size="9.65" text-anchor="middle" fill="#000" stroke="#000" stroke-width="0.18">PSA</text>
<text transform="translate(478.71 380.5)" font-size="9.65" text-anchor="middle" fill="#000" stroke="#000" stroke-width="0.18">NKX3.1</text>
<text transform="translate(308.2 236) scale(1 0.94)" font-size="10" text-anchor="start" fill="#000" xml:space="preserve" stroke="#000" stroke-width="0.18">VCaP CSS 24 h</text>
<rect x="407.7" y="231.5" width="5" height="4.3" fill="#fff" stroke="#111" stroke-width="1.1"/>
<text transform="translate(414.9 236.8) scale(1 0.95)" font-size="10.1" text-anchor="start" fill="#000" stroke="#000" stroke-width="0.18">V</text>
<rect x="430.7" y="231.3" width="5" height="4.9" fill="#437fc5"/>
<text transform="translate(438 236.8) scale(1 0.95)" font-size="10.1" text-anchor="start" fill="#000" stroke="#000" stroke-width="0.18">O</text>
<rect x="454.5" y="231.3" width="5" height="4.9" fill="#ee1c27"/>
<text transform="translate(461.8 236.8) scale(1 0.95)" font-size="10.1" text-anchor="start" fill="#000" stroke="#000" stroke-width="0.18">E</text>
<rect x="477" y="231.3" width="5" height="4.9" fill="#8cc63f"/>
<text transform="translate(484.6 236.8) scale(1 0.95)" font-size="10.1" text-anchor="start" fill="#000" stroke="#000" stroke-width="0.18">OE</text>
<text transform="translate(274 296) rotate(-90)" font-size="10" font-weight="bold" text-anchor="middle" fill="#000" stroke="#000" stroke-width="0.25">Relative gene expression</text>
<text transform="translate(267 213)" font-size="16.5" font-weight="bold" text-anchor="start" fill="#000" stroke="#000" stroke-width="0.25">D</text>
<text transform="translate(328.75 312.95)" font-size="9" font-weight="bold" text-anchor="middle" fill="#000" stroke="#000" stroke-width="0.3">*</text>
<text transform="translate(335.75 296.2)" font-size="9" font-weight="bold" text-anchor="middle" fill="#000" stroke="#000" stroke-width="0.3">*</text>
<text transform="translate(359.25 319.95)" font-size="9" font-weight="bold" text-anchor="middle" fill="#000" stroke="#000" stroke-width="0.3">*</text>
<text transform="translate(366.25 329.95)" font-size="9" font-weight="bold" text-anchor="middle" fill="#000" stroke="#000" stroke-width="0.3">*</text>
<text transform="translate(373 339.95)" font-size="9" font-weight="bold" text-anchor="middle" fill="#000" stroke="#000" stroke-width="0.3">*</text>
<text transform="translate(403.75 333.7)" font-size="9" font-weight="bold" text-anchor="middle" fill="#000" stroke="#000" stroke-width="0.3">*</text>
<text transform="translate(413.75 312.95)" font-size="9" font-weight="bold" text-anchor="middle" fill="#000" stroke="#000" stroke-width="0.3">*</text>
<text transform="translate(437 316.95)" font-size="9" font-weight="bold" text-anchor="middle" fill="#000" stroke="#000" stroke-width="0.3">*</text>
<text transform="translate(443.75 329.95)" font-size="9" font-weight="bold" text-anchor="middle" fill="#000" stroke="#000" stroke-width="0.3">*</text>
<text transform="translate(450.75 333.7)" font-size="9" font-weight="bold" text-anchor="middle" fill="#000" stroke="#000" stroke-width="0.3">*</text>
<rect x="79.12" y="497.69" width="10.6" height="60.51" fill="#fff" stroke="#111" stroke-width="1"/>
<line x1="84.32" y1="503.46" x2="84.32" y2="491.93" stroke="#606060" stroke-width="0.9"/>
<line x1="83.22" y1="491.93" x2="85.42" y2="491.93" stroke="#444" stroke-width="0.9"/>
<line x1="83.22" y1="503.46" x2="85.42" y2="503.46" stroke="#444" stroke-width="0.9"/>
<rect x="90.02" y="509.23" width="10.6" height="48.97" fill="#bdbdbd" stroke="#777" stroke-width="0.7"/>
<line x1="95.32" y1="512.33" x2="95.32" y2="506.12" stroke="#606060" stroke-width="0.9"/>
<line x1="94.22" y1="506.12" x2="96.42" y2="506.12" stroke="#444" stroke-width="0.9"/>
<line x1="94.22" y1="512.33" x2="96.42" y2="512.33" stroke="#444" stroke-width="0.9"/>
<rect x="100.82" y="544.45" width="11" height="13.75" fill="#000000"/>
<line x1="106.32" y1="544.45" x2="106.32" y2="541.61" stroke="#606060" stroke-width="0.9"/>
<line x1="105.22" y1="541.61" x2="107.42" y2="541.61" stroke="#444" stroke-width="0.9"/>
<rect x="128.57" y="506.21" width="10.6" height="51.99" fill="#fff" stroke="#111" stroke-width="1"/>
<line x1="133.77" y1="513.31" x2="133.77" y2="499.11" stroke="#606060" stroke-width="0.9"/>
<line x1="132.67" y1="499.11" x2="134.87" y2="499.11" stroke="#444" stroke-width="0.9"/>
<line x1="132.67" y1="513.31" x2="134.87" y2="513.31" stroke="#444" stroke-width="0.9"/>
<rect x="139.47" y="454.49" width="10.6" height="103.71" fill="#bdbdbd" stroke="#777" stroke-width="0.7"/>
<line x1="144.77" y1="485.98" x2="144.77" y2="422.99" stroke="#606060" stroke-width="0.9"/>
<line x1="143.67" y1="422.99" x2="145.87" y2="422.99" stroke="#444" stroke-width="0.9"/>
<line x1="143.67" y1="485.98" x2="145.87" y2="485.98" stroke="#444" stroke-width="0.9"/>
<rect x="150.27" y="543.74" width="11" height="14.46" fill="#000000"/>
<line x1="155.77" y1="543.74" x2="155.77" y2="543.03" stroke="#606060" stroke-width="0.9"/>
<line x1="154.67" y1="543.03" x2="156.87" y2="543.03" stroke="#444" stroke-width="0.9"/>
<rect x="178.03" y="528.21" width="10.6" height="29.99" fill="#fff" stroke="#111" stroke-width="1"/>
<line x1="183.22" y1="531.94" x2="183.22" y2="524.49" stroke="#606060" stroke-width="0.9"/>
<line x1="182.12" y1="524.49" x2="184.32" y2="524.49" stroke="#444" stroke-width="0.9"/>
<line x1="182.12" y1="531.94" x2="184.32" y2="531.94" stroke="#444" stroke-width="0.9"/>
<rect x="188.92" y="547.47" width="10.6" height="10.73" fill="#bdbdbd" stroke="#777" stroke-width="0.7"/>
<line x1="194.22" y1="551.01" x2="194.22" y2="543.92" stroke="#606060" stroke-width="0.9"/>
<line x1="193.12" y1="543.92" x2="195.32" y2="543.92" stroke="#444" stroke-width="0.9"/>
<line x1="193.12" y1="551.01" x2="195.32" y2="551.01" stroke="#444" stroke-width="0.9"/>
<rect x="199.72" y="541.25" width="11" height="16.95" fill="#000000"/>
<line x1="205.22" y1="541.25" x2="205.22" y2="540.81" stroke="#606060" stroke-width="0.9"/>
<line x1="204.12" y1="540.81" x2="206.32" y2="540.81" stroke="#444" stroke-width="0.9"/>
<rect x="227.47" y="527.5" width="10.6" height="30.7" fill="#fff" stroke="#111" stroke-width="1"/>
<line x1="232.67" y1="530.16" x2="232.67" y2="524.84" stroke="#606060" stroke-width="0.9"/>
<line x1="231.57" y1="524.84" x2="233.77" y2="524.84" stroke="#444" stroke-width="0.9"/>
<line x1="231.57" y1="530.16" x2="233.77" y2="530.16" stroke="#444" stroke-width="0.9"/>
<rect x="238.37" y="544.45" width="10.6" height="13.75" fill="#bdbdbd" stroke="#777" stroke-width="0.7"/>
<line x1="243.67" y1="545.16" x2="243.67" y2="543.74" stroke="#606060" stroke-width="0.9"/>
<line x1="242.57" y1="543.74" x2="244.77" y2="543.74" stroke="#444" stroke-width="0.9"/>
<line x1="242.57" y1="545.16" x2="244.77" y2="545.16" stroke="#444" stroke-width="0.9"/>
<rect x="249.17" y="544.18" width="11" height="14.02" fill="#000000"/>
<line x1="254.67" y1="544.18" x2="254.67" y2="541.96" stroke="#606060" stroke-width="0.9"/>
<line x1="253.57" y1="541.96" x2="255.77" y2="541.96" stroke="#444" stroke-width="0.9"/>
<line x1="70.6" y1="416.25" x2="70.6" y2="558.7" stroke="#333" stroke-width="1.2"/>
<line x1="70.1" y1="558.2" x2="268.9" y2="558.2" stroke="#333" stroke-width="1.2"/>
<line x1="67.6" y1="558.2" x2="70.6" y2="558.2" stroke="#333" stroke-width="1.2"/>
<text transform="translate(64.4 561.4)" font-size="8.8" font-weight="bold" text-anchor="end" fill="#000" stroke="#000" stroke-width="0.25">0</text>
<line x1="67.6" y1="540.46" x2="70.6" y2="540.46" stroke="#333" stroke-width="1.2"/>
<text transform="translate(64.4 543.66)" font-size="8.8" font-weight="bold" text-anchor="end" fill="#000" stroke="#000" stroke-width="0.25">200</text>
<line x1="67.6" y1="522.71" x2="70.6" y2="522.71" stroke="#333" stroke-width="1.2"/>
<text transform="translate(64.4 525.91)" font-size="8.8" font-weight="bold" text-anchor="end" fill="#000" stroke="#000" stroke-width="0.25">400</text>
<line x1="67.6" y1="504.97" x2="70.6" y2="504.97" stroke="#333" stroke-width="1.2"/>
<text transform="translate(64.4 508.17)" font-size="8.8" font-weight="bold" text-anchor="end" fill="#000" stroke="#000" stroke-width="0.25">600</text>
<line x1="67.6" y1="487.23" x2="70.6" y2="487.23" stroke="#333" stroke-width="1.2"/>
<text transform="translate(64.4 490.43)" font-size="8.8" font-weight="bold" text-anchor="end" fill="#000" stroke="#000" stroke-width="0.25">800</text>
<line x1="67.6" y1="469.48" x2="70.6" y2="469.48" stroke="#333" stroke-width="1.2"/>
<text transform="translate(64.4 472.68)" font-size="8.8" font-weight="bold" text-anchor="end" fill="#000" stroke="#000" stroke-width="0.25">1,000</text>
<line x1="67.6" y1="451.74" x2="70.6" y2="451.74" stroke="#333" stroke-width="1.2"/>
<text transform="translate(64.4 454.94)" font-size="8.8" font-weight="bold" text-anchor="end" fill="#000" stroke="#000" stroke-width="0.25">1,200</text>
<line x1="67.6" y1="433.99" x2="70.6" y2="433.99" stroke="#333" stroke-width="1.2"/>
<text transform="translate(64.4 437.19)" font-size="8.8" font-weight="bold" text-anchor="end" fill="#000" stroke="#000" stroke-width="0.25">1,400</text>
<line x1="67.6" y1="416.25" x2="70.6" y2="416.25" stroke="#333" stroke-width="1.2"/>
<text transform="translate(64.4 419.45)" font-size="8.8" font-weight="bold" text-anchor="end" fill="#000" stroke="#000" stroke-width="0.25">1,600</text>
<line x1="70.6" y1="558.2" x2="70.6" y2="561.4" stroke="#333" stroke-width="1.2"/>
<line x1="120.05" y1="558.2" x2="120.05" y2="561.4" stroke="#333" stroke-width="1.2"/>
<line x1="169.5" y1="558.2" x2="169.5" y2="561.4" stroke="#333" stroke-width="1.2"/>
<line x1="218.95" y1="558.2" x2="218.95" y2="561.4" stroke="#333" stroke-width="1.2"/>
<line x1="268.4" y1="558.2" x2="268.4" y2="561.4" stroke="#333" stroke-width="1.2"/>
<text transform="translate(91.5 573.6)" font-size="9.2" font-weight="bold" text-anchor="middle" fill="#000" stroke="#000" stroke-width="0.25">Vehicle</text>
<text transform="translate(142.3 573.6)" font-size="9.2" font-weight="bold" text-anchor="middle" fill="#000" stroke="#000" stroke-width="0.25">Orlistat</text>
<text transform="translate(193.8 573.6)" font-size="9.2" font-weight="bold" text-anchor="middle" fill="#000" stroke="#000" stroke-width="0.25">Orli + eto</text>
<text transform="translate(242.4 573.6)" font-size="9.2" font-weight="bold" text-anchor="middle" fill="#000" stroke="#000" stroke-width="0.25">Etomoxir</text>
<rect x="77.8" y="421.95" width="4" height="4" fill="#fff" stroke="#111" stroke-width="1"/>
<text transform="translate(84.4 426.9)" font-size="9.3" font-weight="bold" text-anchor="start" fill="#000" stroke="#000" stroke-width="0.25">LNCaP</text>
<rect x="77.6" y="434.85" width="4.4" height="4.4" fill="#bdbdbd" stroke="#888" stroke-width="0.6"/>
<text transform="translate(84.4 440)" font-size="9.3" font-weight="bold" text-anchor="start" fill="#000" stroke="#000" stroke-width="0.25">VCaP</text>
<rect x="77.6" y="447.95" width="4.5" height="4.5" fill="#000000"/>
<text transform="translate(84.4 453.1)" font-size="9.3" font-weight="bold" text-anchor="start" fill="#000" stroke="#000" stroke-width="0.25">BPH-1</text>
<text transform="translate(23.5 412.5)" font-size="16.5" font-weight="bold" text-anchor="start" fill="#000" stroke="#000" stroke-width="0.25">E</text>
<rect x="326.61" y="510" width="9.6" height="49.1" fill="#fff" stroke="#111" stroke-width="1"/>
<line x1="331.31" y1="513.09" x2="331.31" y2="506.91" stroke="#606060" stroke-width="0.9"/>
<line x1="330.21" y1="506.91" x2="332.41" y2="506.91" stroke="#444" stroke-width="0.9"/>
<line x1="330.21" y1="513.09" x2="332.41" y2="513.09" stroke="#444" stroke-width="0.9"/>
<rect x="336.51" y="524.59" width="9.6" height="34.51" fill="#d9d9d9" stroke="#777" stroke-width="0.7"/>
<line x1="341.31" y1="531.11" x2="341.31" y2="518.07" stroke="#606060" stroke-width="0.9"/>
<line x1="340.21" y1="518.07" x2="342.41" y2="518.07" stroke="#444" stroke-width="0.9"/>
<line x1="340.21" y1="531.11" x2="342.41" y2="531.11" stroke="#444" stroke-width="0.9"/>
<rect x="346.31" y="503.13" width="10" height="55.97" fill="#000000"/>
<line x1="351.31" y1="503.13" x2="351.31" y2="500.21" stroke="#606060" stroke-width="0.9"/>
<line x1="350.21" y1="500.21" x2="352.41" y2="500.21" stroke="#444" stroke-width="0.9"/>
<rect x="371.24" y="498.84" width="9.6" height="60.26" fill="#fff" stroke="#111" stroke-width="1"/>
<line x1="375.94" y1="507.08" x2="375.94" y2="490.6" stroke="#606060" stroke-width="0.9"/>
<line x1="374.84" y1="490.6" x2="377.04" y2="490.6" stroke="#444" stroke-width="0.9"/>
<line x1="374.84" y1="507.08" x2="377.04" y2="507.08" stroke="#444" stroke-width="0.9"/>
<rect x="381.14" y="509.65" width="9.6" height="49.45" fill="#d9d9d9" stroke="#777" stroke-width="0.7"/>
<line x1="385.94" y1="512.23" x2="385.94" y2="507.08" stroke="#606060" stroke-width="0.9"/>
<line x1="384.84" y1="507.08" x2="387.04" y2="507.08" stroke="#444" stroke-width="0.9"/>
<line x1="384.84" y1="512.23" x2="387.04" y2="512.23" stroke="#444" stroke-width="0.9"/>
<rect x="390.94" y="493.86" width="10" height="65.24" fill="#000000"/>
<line x1="395.94" y1="493.86" x2="395.94" y2="485.27" stroke="#606060" stroke-width="0.9"/>
<line x1="394.84" y1="485.27" x2="397.04" y2="485.27" stroke="#444" stroke-width="0.9"/>
<rect x="415.86" y="476.69" width="9.6" height="82.41" fill="#fff" stroke="#111" stroke-width="1"/>
<line x1="420.56" y1="484.07" x2="420.56" y2="469.31" stroke="#606060" stroke-width="0.9"/>
<line x1="419.46" y1="469.31" x2="421.66" y2="469.31" stroke="#444" stroke-width="0.9"/>
<line x1="419.46" y1="484.07" x2="421.66" y2="484.07" stroke="#444" stroke-width="0.9"/>
<rect x="425.76" y="487.16" width="9.6" height="71.94" fill="#d9d9d9" stroke="#777" stroke-width="0.7"/>
<line x1="430.56" y1="490.08" x2="430.56" y2="484.24" stroke="#606060" stroke-width="0.9"/>
<line x1="429.46" y1="484.24" x2="431.66" y2="484.24" stroke="#444" stroke-width="0.9"/>
<line x1="429.46" y1="490.08" x2="431.66" y2="490.08" stroke="#444" stroke-width="0.9"/>
<rect x="435.56" y="436.17" width="10" height="122.93" fill="#000000"/>
<line x1="440.56" y1="436.17" x2="440.56" y2="428.79" stroke="#606060" stroke-width="0.9"/>
<line x1="439.46" y1="428.79" x2="441.66" y2="428.79" stroke="#444" stroke-width="0.9"/>
<rect x="460.49" y="441.15" width="9.6" height="117.95" fill="#fff" stroke="#111" stroke-width="1"/>
<line x1="465.19" y1="459.52" x2="465.19" y2="422.78" stroke="#606060" stroke-width="0.9"/>
<line x1="464.09" y1="422.78" x2="466.29" y2="422.78" stroke="#444" stroke-width="0.9"/>
<line x1="464.09" y1="459.52" x2="466.29" y2="459.52" stroke="#444" stroke-width="0.9"/>
<rect x="470.39" y="517.04" width="9.6" height="42.06" fill="#d9d9d9" stroke="#777" stroke-width="0.7"/>
<line x1="475.19" y1="520.13" x2="475.19" y2="513.95" stroke="#606060" stroke-width="0.9"/>
<line x1="474.09" y1="513.95" x2="476.29" y2="513.95" stroke="#444" stroke-width="0.9"/>
<line x1="474.09" y1="520.13" x2="476.29" y2="520.13" stroke="#444" stroke-width="0.9"/>
<rect x="480.19" y="478.06" width="10" height="81.04" fill="#000000"/>
<line x1="485.19" y1="478.06" x2="485.19" y2="459.18" stroke="#606060" stroke-width="0.9"/>
<line x1="484.09" y1="459.18" x2="486.29" y2="459.18" stroke="#444" stroke-width="0.9"/>
<line x1="319" y1="421.75" x2="319" y2="559.6" stroke="#333" stroke-width="1.2"/>
<line x1="318.5" y1="559.1" x2="498" y2="559.1" stroke="#333" stroke-width="1.2"/>
<line x1="316" y1="559.1" x2="319" y2="559.1" stroke="#333" stroke-width="1.2"/>
<text transform="translate(311.3 562.3)" font-size="9" font-weight="bold" text-anchor="end" fill="#000" stroke="#000" stroke-width="0.25">0</text>
<line x1="316" y1="541.93" x2="319" y2="541.93" stroke="#333" stroke-width="1.2"/>
<text transform="translate(311.3 545.13)" font-size="9" font-weight="bold" text-anchor="end" fill="#000" stroke="#000" stroke-width="0.25">10</text>
<line x1="316" y1="524.76" x2="319" y2="524.76" stroke="#333" stroke-width="1.2"/>
<text transform="translate(311.3 527.96)" font-size="9" font-weight="bold" text-anchor="end" fill="#000" stroke="#000" stroke-width="0.25">20</text>
<line x1="316" y1="507.59" x2="319" y2="507.59" stroke="#333" stroke-width="1.2"/>
<text transform="translate(311.3 510.79)" font-size="9" font-weight="bold" text-anchor="end" fill="#000" stroke="#000" stroke-width="0.25">30</text>
<line x1="316" y1="490.43" x2="319" y2="490.43" stroke="#333" stroke-width="1.2"/>
<text transform="translate(311.3 493.62)" font-size="9" font-weight="bold" text-anchor="end" fill="#000" stroke="#000" stroke-width="0.25">40</text>
<line x1="316" y1="473.26" x2="319" y2="473.26" stroke="#333" stroke-width="1.2"/>
<text transform="translate(311.3 476.46)" font-size="9" font-weight="bold" text-anchor="end" fill="#000" stroke="#000" stroke-width="0.25">50</text>
<line x1="316" y1="456.09" x2="319" y2="456.09" stroke="#333" stroke-width="1.2"/>
<text transform="translate(311.3 459.29)" font-size="9" font-weight="bold" text-anchor="end" fill="#000" stroke="#000" stroke-width="0.25">60</text>
<line x1="316" y1="438.92" x2="319" y2="438.92" stroke="#333" stroke-width="1.2"/>
<text transform="translate(311.3 442.12)" font-size="9" font-weight="bold" text-anchor="end" fill="#000" stroke="#000" stroke-width="0.25">70</text>
<line x1="316" y1="421.75" x2="319" y2="421.75" stroke="#333" stroke-width="1.2"/>
<text transform="translate(311.3 424.95)" font-size="9" font-weight="bold" text-anchor="end" fill="#000" stroke="#000" stroke-width="0.25">80</text>
<line x1="319" y1="559.1" x2="319" y2="562.3" stroke="#333" stroke-width="1.2"/>
<line x1="363.62" y1="559.1" x2="363.62" y2="562.3" stroke="#333" stroke-width="1.2"/>
<line x1="408.25" y1="559.1" x2="408.25" y2="562.3" stroke="#333" stroke-width="1.2"/>
<line x1="452.88" y1="559.1" x2="452.88" y2="562.3" stroke="#333" stroke-width="1.2"/>
<line x1="497.5" y1="559.1" x2="497.5" y2="562.3" stroke="#333" stroke-width="1.2"/>
<text transform="translate(338.1 573.8)" font-size="9.25" font-weight="bold" text-anchor="middle" fill="#000" stroke="#000" stroke-width="0.25">Vehicle</text>
<text transform="translate(383.4 573.8)" font-size="9.25" font-weight="bold" text-anchor="middle" fill="#000" stroke="#000" stroke-width="0.25">Orlistat</text>
<text transform="translate(432.9 573.8)" font-size="9.25" font-weight="bold" text-anchor="middle" fill="#000" stroke="#000" stroke-width="0.25">Orli + eto</text>
<text transform="translate(479 573.8)" font-size="9.25" font-weight="bold" text-anchor="middle" fill="#000" stroke="#000" stroke-width="0.25">Etomoxir</text>
<rect x="333.2" y="425.65" width="4" height="4" fill="#fff" stroke="#111" stroke-width="1"/>
<text transform="translate(339.7 430.6)" font-size="9.3" font-weight="bold" text-anchor="start" fill="#000" stroke="#000" stroke-width="0.25">LNCaP</text>
<rect x="333" y="435.75" width="4.4" height="4.4" fill="#d9d9d9" stroke="#888" stroke-width="0.6"/>
<text transform="translate(339.7 440.9)" font-size="9.3" font-weight="bold" text-anchor="start" fill="#000" stroke="#000" stroke-width="0.25">VCaP</text>
<rect x="333" y="445.15" width="4.5" height="4.5" fill="#000000"/>
<text transform="translate(339.7 450.3)" font-size="9.3" font-weight="bold" text-anchor="start" fill="#000" stroke="#000" stroke-width="0.25">BPH-1</text>
<text transform="translate(267.3 413)" font-size="16.5" font-weight="bold" text-anchor="start" fill="#000" stroke="#000" stroke-width="0.25">F</text>
<text transform="translate(25.6 484.8) rotate(-90)" font-size="10.5" font-weight="bold" text-anchor="middle" fill="#000" stroke="#000" stroke-width="0.25">C<tspan font-size="6.5" dy="-3.5">14</tspan><tspan dy="3.5"> palmitate oxidation</tspan></text>
<text transform="translate(37 486) rotate(-90)" font-size="10.2" font-weight="bold" text-anchor="middle" fill="#000" stroke="#000" stroke-width="0.25">nmol/ g prot/ h</text>
<text transform="translate(88.4 486.8)" font-size="9.5" font-weight="bold" text-anchor="middle" fill="#000" stroke="#000" stroke-width="0.25">$</text>
<line x1="76.2" y1="490.8" x2="100.6" y2="490.8" stroke="#222" stroke-width="1"/>
<text transform="translate(183.8 521.6)" font-size="9" font-weight="bold" text-anchor="middle" fill="#000" stroke="#000" stroke-width="0.25">*</text>
<text transform="translate(233.3 521.6)" font-size="9" font-weight="bold" text-anchor="middle" fill="#000" stroke="#000" stroke-width="0.25">*</text>
<text transform="translate(194.8 540.6)" font-size="10" font-weight="bold" text-anchor="middle" fill="#000" stroke="#000" stroke-width="0.55">^</text>
<text transform="translate(244.6 540.6)" font-size="10" font-weight="bold" text-anchor="middle" fill="#000" stroke="#000" stroke-width="0.55">^</text>
<text transform="translate(295.6 486.3) rotate(-90)" font-size="10.05" font-weight="bold" text-anchor="middle" fill="#000" stroke="#000" stroke-width="0.25">pmol /mg /min 2DG uptake</text>
<text transform="translate(384.9 506.5)" font-size="10" font-weight="bold" text-anchor="middle" fill="#000" stroke="#000" stroke-width="0.55">^</text>
<text transform="translate(429.6 485.5)" font-size="10" font-weight="bold" text-anchor="middle" fill="#000" stroke="#000" stroke-width="0.55">^</text>
<text transform="translate(419.3 464.9)" font-size="7.8" font-weight="bold" text-anchor="middle" fill="#000" stroke="#000" stroke-width="0.25">#</text>
<text transform="translate(441.3 425.5)" font-size="11" font-weight="bold" text-anchor="middle" fill="#000" stroke="#000" stroke-width="0.25">*</text>
<text transform="translate(467.8 419.9)" font-size="8.1" font-weight="bold" text-anchor="middle" fill="#000" stroke="#000" stroke-width="0.25">a #</text>
<rect x="0" y="0" width="520" height="1.3" fill="#7d7d7d"/>
<rect x="0" y="0" width="1.2" height="592" fill="#8a8a8a"/>
<rect x="518.2" y="0" width="1.8" height="592" fill="#8a8a8a"/>
<rect x="0" y="590.2" width="520" height="1.8" fill="#8a8a8a"/>
</svg></body></html>
